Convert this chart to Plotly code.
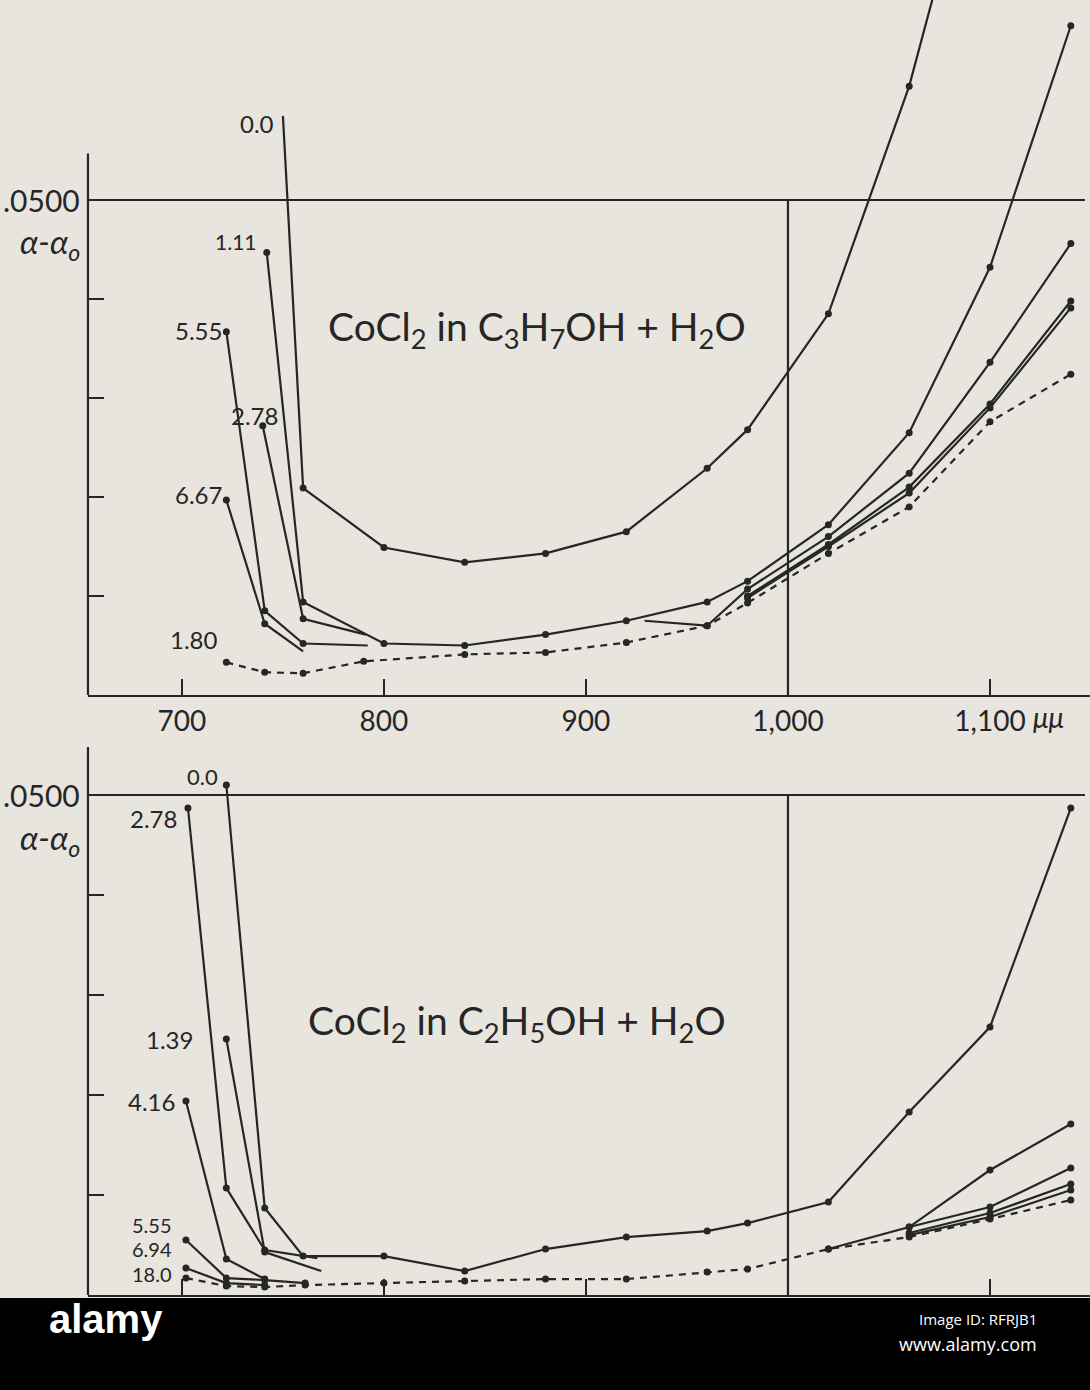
import plotly.graph_objects as go

PAPER = "#e7e5de"
INK = "#262626"
FONT = "Lato, 'Open Sans', sans-serif"

# wavelength ticks (mμ)
WL_TICKS = [700, 800, 900, 1000, 1100]
WL_TEXT = ["700", "800", "900", "1,000", "1,100"]
Y_TICKS = [0.01, 0.02, 0.03, 0.04]

# --- upper panel: CoCl2 in C3H7OH + H2O -------------------------------------
T_00_X = [750, 760, 800, 840, 880, 920, 960, 980, 1020, 1060, 1100]
T_00_Y = [0.0585, 0.0209, 0.0149, 0.0134, 0.0143, 0.0165, 0.0229, 0.0268, 0.0385, 0.0615, 0.0920]
T_00_DOT = [0, 1, 1, 1, 1, 1, 1, 1, 1, 1, 1]

T_111_X = [742, 760, 800, 840, 880, 920, 960, 980, 1020, 1060, 1100, 1140]
T_111_Y = [0.0447, 0.0094, 0.0052, 0.0050, 0.0061, 0.0075, 0.0094, 0.0115, 0.0172, 0.0265, 0.0432, 0.0676]

T_278_X = [740, 760, 791, None, 929, 960, 980, 1020, 1060, 1100, 1140]
T_278_Y = [0.0272, 0.0077, 0.0061, None, 0.0075, 0.0070, 0.0107, 0.0160, 0.0224, 0.0336, 0.0456]
T_278_DOT = [1, 1, 0, 0, 0, 1, 1, 1, 1, 1, 1]

T_555_X = [722, 741, 760, 792, None, 980, 1020, 1060, 1100, 1140]
T_555_Y = [0.0367, 0.0085, 0.0052, 0.0050, None, 0.0100, 0.0152, 0.0210, 0.0294, 0.0398]
T_555_DOT = [1, 1, 1, 0, 0, 1, 1, 1, 1, 1]

T_667_X = [722, 741, 760, None, 980, 1020, 1060, 1100, 1140]
T_667_Y = [0.0197, 0.0072, 0.0044, None, 0.0098, 0.0150, 0.0204, 0.0290, 0.0391]
T_667_DOT = [1, 1, 0, 0, 1, 1, 1, 1, 1]

T_180_X = [722, 741, 760, 790, 840, 880, 920, 960, 980, 1020, 1060, 1100, 1140]
T_180_Y = [0.0033, 0.0023, 0.0022, 0.0034, 0.0041, 0.0043, 0.0053, 0.0070, 0.0093, 0.0143, 0.0190, 0.0276, 0.0324]

T_LABELS = ["0.0", "1.11", "5.55", "2.78", "6.67", "1.80"]
T_LABEL_X = [737, 727, 708, 736, 708, 706]
T_LABEL_Y = [0.0577, 0.0458, 0.0368, 0.0282, 0.0203, 0.0056]

# --- lower panel: CoCl2 in C2H5OH + H2O -------------------------------------
B_00_X = [722, 741, 760, 800, 840, 880, 920, 960, 980, 1020, 1060, 1100, 1140]
B_00_Y = [0.0510, 0.0087, 0.0039, 0.0039, 0.0024, 0.0046, 0.0058, 0.0064, 0.0072, 0.0093, 0.0183, 0.0268, 0.0487]

B_278_X = [703, 722, 741, 767, None, 1020, 1060, 1100, 1140]
B_278_Y = [0.0487, 0.0107, 0.0045, 0.0037, None, 0.0046, 0.0068, 0.0125, 0.0171]
B_278_DOT = [1, 1, 1, 0, 0, 1, 1, 1, 1]

B_139_X = [722, 741, 769, None, 1060, 1100, 1140]
B_139_Y = [0.0256, 0.0043, 0.0024, None, 0.0068, 0.0088, 0.0127]
B_139_DOT = [1, 1, 0, 0, 1, 1, 1]

B_416_X = [702, 722, 741, None, 1060, 1100, 1140]
B_416_Y = [0.0194, 0.0036, 0.0016, None, 0.0062, 0.0082, 0.0111]

B_555_X = [702, 722, 741, 761, None, 1060, 1100, 1140]
B_555_Y = [0.0055, 0.0017, 0.0015, 0.0012, None, 0.0060, 0.0078, 0.0105]

B_694_X = [702, 722, 741]
B_694_Y = [0.0027, 0.0012, 0.0010]

B_180_X = [702, 722, 741, 761, 800, 840, 880, 920, 960, 980, 1020, 1060, 1100, 1140]
B_180_Y = [0.0017, 0.0009, 0.0008, 0.0010, 0.0012, 0.0014, 0.0016, 0.0016, 0.0023, 0.0026, 0.0046, 0.0058, 0.0076, 0.0095]

B_LABELS = ["0.0", "2.78", "1.39", "4.16", "5.55", "6.94", "18.0"]
B_LABEL_X = [710, 686, 694, 685, 685, 685, 685]
B_LABEL_Y = [0.0519, 0.0477, 0.0256, 0.0194, 0.0070, 0.0046, 0.0021]
B_LABEL_SIZE = [22, 24, 24, 24, 20, 20, 20]

fig = go.Figure()


def add_curve(x, y, xa, ya, dots=None, dash="solid"):
    """Line through the points plus a dot on each measured point."""
    fig.add_trace(go.Scatter(
        x=x, y=y, mode="lines", xaxis=xa, yaxis=ya, hoverinfo="skip",
        line={"color": INK, "width": 2.2, "dash": dash},
    ))
    if dots is None:
        dots = [1] * len(x)
    dx = [a for a, d in zip(x, dots) if d and a is not None]
    dy = [b for b, d in zip(y, dots) if d and b is not None]
    fig.add_trace(go.Scatter(
        x=dx, y=dy, mode="markers", xaxis=xa, yaxis=ya,
        marker={"color": INK, "size": 7},
    ))


DASH = "7px,6px"

add_curve(T_00_X, T_00_Y, "x", "y", T_00_DOT)
add_curve(T_111_X, T_111_Y, "x", "y")
add_curve(T_278_X, T_278_Y, "x", "y", T_278_DOT)
add_curve(T_555_X, T_555_Y, "x", "y", T_555_DOT)
add_curve(T_667_X, T_667_Y, "x", "y", T_667_DOT)
add_curve(T_180_X, T_180_Y, "x", "y", dash=DASH)

add_curve(B_00_X, B_00_Y, "x2", "y2")
add_curve(B_278_X, B_278_Y, "x2", "y2", B_278_DOT)
add_curve(B_139_X, B_139_Y, "x2", "y2", B_139_DOT)
add_curve(B_416_X, B_416_Y, "x2", "y2")
add_curve(B_555_X, B_555_Y, "x2", "y2")
add_curve(B_694_X, B_694_Y, "x2", "y2")
add_curve(B_180_X, B_180_Y, "x2", "y2", dash=DASH)

X_RANGE = [653.5, 1149.5]
x_common = {
    "range": X_RANGE, "domain": [0.0807, 1.0], "showgrid": False, "zeroline": False,
    "showline": True, "linecolor": INK, "linewidth": 2.2,
    "ticks": "inside", "ticklen": 16, "tickwidth": 2, "tickcolor": INK,
    "tickvals": WL_TICKS,
}
y_common = {
    "showgrid": False, "zeroline": False, "showline": False,
    "ticks": "inside", "ticklen": 16, "tickwidth": 2, "tickcolor": INK,
    "tickvals": Y_TICKS, "showticklabels": False,
}

fig.update_layout(
    width=1090, height=1390, autosize=False,
    margin={"l": 0, "r": 0, "t": 0, "b": 0},
    paper_bgcolor=PAPER, plot_bgcolor=PAPER,
    showlegend=False,
    font={"family": FONT, "color": INK},
    xaxis={**x_common, "anchor": "y", "ticktext": WL_TEXT, "tickfont": {"size": 28}},
    yaxis={**y_common, "range": [0, 0.0702], "domain": [0.5, 1.0], "anchor": "x"},
    xaxis2={**x_common, "anchor": "y2", "showticklabels": False},
    yaxis2={**y_common, "range": [0, 0.0595], "domain": [0.0683, 0.4964], "anchor": "x2"},
)

shapes = []
for xr, yr, top in (("x", "y", 0.0547), ("x2", "y2", 0.0548)):
    # left axis, 0.0500 reference line, 1,000 mμ line
    shapes.append({"type": "line", "xref": f"{xr} domain", "yref": yr,
                   "x0": 0, "x1": 0, "y0": 0, "y1": top,
                   "line": {"color": INK, "width": 2.2}})
    shapes.append({"type": "line", "xref": f"{xr} domain", "yref": yr,
                   "x0": 0, "x1": 0.995, "y0": 0.05, "y1": 0.05,
                   "line": {"color": INK, "width": 2.2}})
    shapes.append({"type": "line", "xref": xr, "yref": yr,
                   "x0": 1000, "x1": 1000, "y0": 0, "y1": 0.05,
                   "line": {"color": INK, "width": 2.2}})
# footer band
shapes.append({"type": "rect", "xref": "paper", "yref": "paper",
               "x0": 0, "x1": 1, "y0": 0, "y1": 0.0662,
               "fillcolor": "black", "line": {"width": 0}, "layer": "above"})
fig.update_layout(shapes=shapes)

ann = []
for yr in ("y", "y2"):
    ann.append({"text": ".0500", "xref": "paper", "yref": yr, "x": 0.0755, "y": 0.05,
                "xanchor": "right", "yanchor": "middle", "showarrow": False,
                "font": {"size": 30}})
    ann.append({"text": "<i>α-α<sub>o</sub></i>", "xref": "paper", "yref": yr,
                "x": 0.0755, "y": 0.0456, "xanchor": "right", "yanchor": "middle",
                "showarrow": False, "font": {"size": 33}})

for t, lx, ly in zip(T_LABELS, T_LABEL_X, T_LABEL_Y):
    ann.append({"text": t, "xref": "x", "yref": "y", "x": lx, "y": ly,
                "showarrow": False, "font": {"size": 24 if t != "1.11" else 21}})
for t, lx, ly, fs in zip(B_LABELS, B_LABEL_X, B_LABEL_Y, B_LABEL_SIZE):
    ann.append({"text": t, "xref": "x2", "yref": "y2", "x": lx, "y": ly,
                "showarrow": False, "font": {"size": fs}})

ann.append({"text": "CoCl<sub>2</sub> in C<sub>3</sub>H<sub>7</sub>OH + H<sub>2</sub>O",
            "xref": "x", "yref": "y", "x": 876, "y": 0.0370,
            "showarrow": False, "font": {"size": 39}})
ann.append({"text": "CoCl<sub>2</sub> in C<sub>2</sub>H<sub>5</sub>OH + H<sub>2</sub>O",
            "xref": "x2", "yref": "y2", "x": 866, "y": 0.0272,
            "showarrow": False, "font": {"size": 39}})
ann.append({"text": "<i>μμ</i>", "xref": "x", "yref": "paper", "x": 1129, "y": 0.4842,
            "showarrow": False, "font": {"size": 28}})

# footer text
ann.append({"text": "<b>alamy</b>", "xref": "paper", "yref": "paper", "x": 0.043, "y": 0.034,
            "xanchor": "left", "showarrow": False,
            "font": {"size": 40, "color": "white", "family": "'Liberation Sans', sans-serif"}})
ann.append({"text": "Image ID: RFRJB1", "xref": "paper", "yref": "paper", "x": 0.953, "y": 0.0424,
            "xanchor": "right", "showarrow": False,
            "font": {"size": 15, "color": "white", "family": "'Open Sans', sans-serif"}})
ann.append({"text": "www.alamy.com", "xref": "paper", "yref": "paper", "x": 0.953, "y": 0.0232,
            "xanchor": "right", "showarrow": False,
            "font": {"size": 18, "color": "white", "family": "'Open Sans', sans-serif"}})
fig.update_layout(annotations=ann)

fig.write_html("out.html", config={"displayModeBar": False},
               post_script="document.body.style.margin='0';")
